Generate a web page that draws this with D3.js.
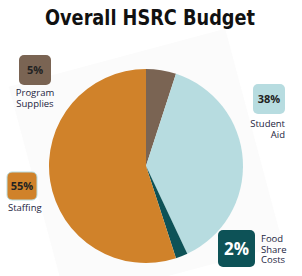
<!DOCTYPE html>
<html>
<head>
<meta charset="utf-8">
<script src="https://cdn.jsdelivr.net/npm/d3@7"></script>
<style>
  body { margin: 0; background: #fff; }
  svg { display: block; }
</style>
</head>
<body>
<div id="chart"></div>
<script>
// budget split, clockwise from 12 o'clock
const categories = ['Program Supplies', 'Student Aid', 'Food Share Costs', 'Staffing'];
const shares = [5, 38, 2, 55];
const pctLabels = ['5%', '38%', '2%', '55%'];
const colors = ['#7a6453', '#b7dce0', '#0d5257', '#d0822a'];

var width = 302,
    height = 276,
    radius = 97;

var svg = d3.select('#chart')
  .append('svg')
    .attr('width', width)
    .attr('height', height);

// faint tilted card behind the pie
svg.append('rect')
  .attr('x', -112).attr('y', -112)
  .attr('width', 224).attr('height', 224)
  .attr('fill', '#fbfbfb')
  .attr('transform', 'translate(146,166) rotate(-15)');

svg.append('text')
  .attr('x', 150)
  .attr('y', 25)
  .attr('text-anchor', 'middle')
  .attr('textLength', 210)
  .attr('lengthAdjust', 'spacingAndGlyphs')
  .style('font-family', '"DejaVu Sans Condensed", "DejaVu Sans", sans-serif')
  .style('font-weight', 'bold')
  .style('font-size', '22px')
  .attr('fill', '#111')
  .text('Overall HSRC Budget');

var g = svg.append('g')
  .attr('transform', 'translate(146,166)');

var pie = d3.pie().sort(null).value(function(d) { return d; });
var arc = d3.arc().innerRadius(0).outerRadius(radius);

g.selectAll('path')
  .data(pie(shares))
  .enter()
  .append('path')
    .attr('d', arc)
    .attr('fill', function(d, i) { return colors[i]; });

// callout boxes: box position/size, label lines and where they go
var callouts = [
  { x: 19, y: 55, w: 32, h: 30, fs: 11, txt: '#222', lines: ['Program', 'Supplies'], lx: 35, ly: 96, anchor: 'middle' },
  { x: 253, y: 84, w: 32, h: 30, fs: 11, txt: '#222', lines: ['Student', 'Aid'], lx: 285, ly: 127, anchor: 'end' },
  { x: 218, y: 230, w: 37, h: 37, fs: 17, txt: '#fff', lines: ['Food', 'Share', 'Costs'], lx: 261, ly: 242, anchor: 'start' },
  { x: 7, y: 172, w: 30, h: 28, fs: 11, txt: '#222', lines: ['Staffing'], lx: 8, ly: 211, anchor: 'start', stroke: '#b7dce0' }
];

callouts.forEach(function(c, i) {
  svg.append('rect')
    .attr('x', c.x).attr('y', c.y)
    .attr('width', c.w).attr('height', c.h)
    .attr('rx', 5)
    .attr('fill', colors[i])
    .attr('stroke', c.stroke || 'none')
    .attr('stroke-width', 1);

  svg.append('text')
    .attr('x', c.x + c.w / 2)
    .attr('y', c.y + c.h / 2)
    .attr('dy', '0.36em')
    .attr('text-anchor', 'middle')
    .style('font-family', '"Open Sans", sans-serif')
    .style('font-weight', 'bold')
    .style('font-size', c.fs + 'px')
    .attr('fill', c.txt)
    .text(pctLabels[i]);

  svg.append('g').selectAll('text')
    .data(c.lines)
    .enter()
    .append('text')
      .attr('x', c.lx)
      .attr('y', function(d, k) { return c.ly + k * 10.5; })
      .attr('text-anchor', c.anchor)
      .style('font-family', '"Open Sans", sans-serif')
      .style('font-size', '9.5px')
      .attr('fill', '#1c2541')
      .text(function(d) { return d; });
});
</script>
</body>
</html>
